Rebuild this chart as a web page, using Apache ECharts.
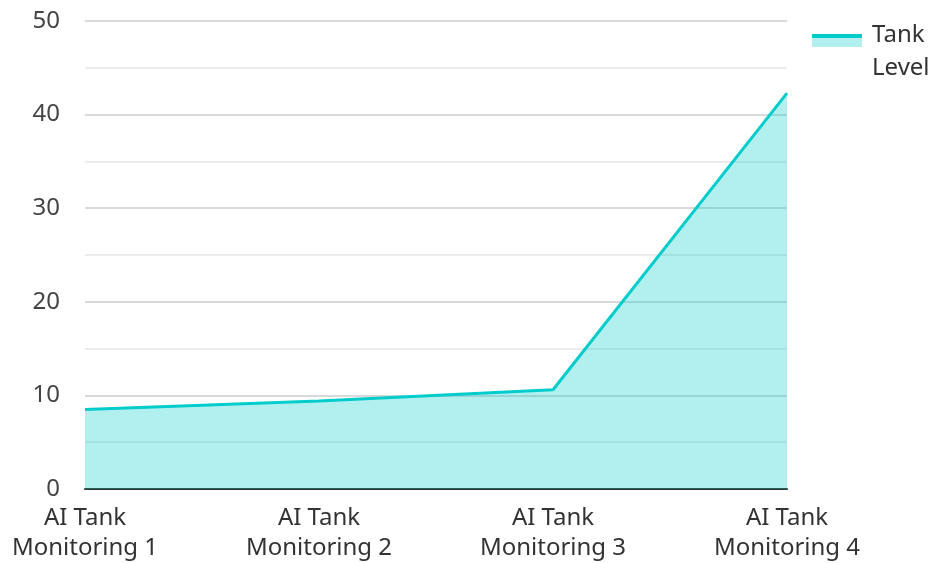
<!DOCTYPE html>
<html><head><meta charset="utf-8">
<script src="https://cdn.jsdelivr.net/npm/echarts@6/dist/echarts.min.js"></script>
<style>html,body{margin:0;padding:0;background:#fff}#c{width:931px;height:563px}</style>
</head><body><div id="c"></div>
<script>
const categories = ['AI Tank Monitoring 1', 'AI Tank Monitoring 2', 'AI Tank Monitoring 3', 'AI Tank Monitoring 4'];
const tankLevel = [8.5, 9.4, 10.6, 42.3];
const seriesName = 'Tank Level';

const iconSvg = '<svg xmlns="http://www.w3.org/2000/svg" width="55" height="36"><rect x="0" y="0" width="50" height="4" fill="#00cccc"/><rect x="0" y="4" width="50" height="9" fill="#b2efef"/></svg>';
const legendIcon = 'image://data:image/svg+xml;charset=utf-8,' + encodeURIComponent(iconSvg);

const chart = echarts.init(document.getElementById('c'));
chart.setOption({
  animation: false,
  textStyle: { fontFamily: 'Noto Sans' },
  grid: { left: 85, right: 144, top: 21, bottom: 74, containLabel: false },
  legend: {
    left: 812, top: 19, padding: 0, orient: 'vertical',
    itemWidth: 55, itemHeight: 36, itemGap: 10,
    icon: legendIcon,
    textStyle: { fontSize: 24, color: '#333', width: 70, overflow: 'break', lineHeight: 33, fontFamily: 'Noto Sans' },
    data: [seriesName]
  },
  xAxis: {
    type: 'category', boundaryGap: false, data: categories,
    axisLine: { lineStyle: { color: '#333', width: 2 } },
    axisTick: { show: false },
    axisLabel: { fontSize: 24, color: '#333', lineHeight: 30, margin: 14, fontFamily: 'Noto Sans',
      formatter: v => v.replace(' Monitoring', '\nMonitoring') }
  },
  yAxis: {
    type: 'value', min: 0, max: 50, interval: 10,
    axisLine: { show: false }, axisTick: { show: false },
    axisLabel: { fontSize: 24, color: '#444', margin: 25, fontFamily: 'Noto Sans' },
    splitLine: { lineStyle: { color: '#cccccc', width: 1.5 } },
    minorTick: { show: false, splitNumber: 2 },
    minorSplitLine: { show: true, lineStyle: { color: '#e6e6e6', width: 1.5 } }
  },
  series: [{
    name: seriesName, type: 'line', data: tankLevel,
    symbol: 'none', showSymbol: false,
    lineStyle: { color: '#00cccc', width: 3 },
    itemStyle: { color: '#00cccc' },
    areaStyle: { color: '#00cccc', opacity: 0.3 }
  }]
});
</script></body></html>
